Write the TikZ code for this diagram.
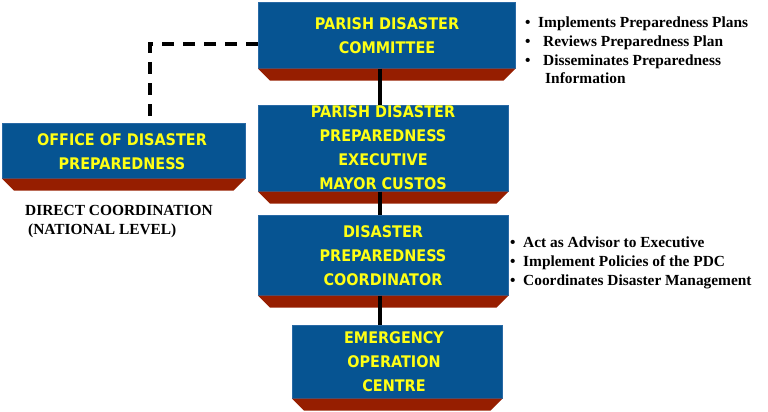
\documentclass[tikz,border=0pt]{standalone}
\usepackage{fontspec}
\setmainfont{Liberation Serif}
\newfontfamily\boxfont[FakeStretch=0.9]{DejaVu Sans}
\definecolor{boxblue}{RGB}{6,84,146}
\definecolor{boxedge}{RGB}{40,105,165}
\definecolor{basered}{RGB}{150,30,0}
\definecolor{txtyellow}{RGB}{255,255,20}
\tikzset{
  orgbox/.style={draw=boxedge, line width=0.6pt, fill=boxblue, inner sep=0pt, anchor=north west},
  boxtext/.style={text=txtyellow, font=\boxfont\bfseries\fontsize{16}{24}\selectfont, align=center, inner sep=0pt},
  basefill/.style={fill=basered},
  link/.style={line width=3.4pt},
  dlink/.style={line width=3.4pt, dash pattern=on 12pt off 9pt},
  note/.style={font=\bfseries\fontsize{15.4}{18.7}\selectfont, align=left, anchor=north west, inner sep=0pt},
}
\newcommand\redbase[1]{\fill[basefill] (#1.south west) -- (#1.south east) -- ([xshift=-12pt,yshift=-12pt]#1.south east) -- ([xshift=12pt,yshift=-12pt]#1.south west) -- cycle;}
\begin{document}
\begin{tikzpicture}[x=1pt,y=-1pt]
\useasboundingbox (0,0) rectangle (768,412);
% boxes
\node[orgbox, minimum width=257pt, minimum height=66pt] (pdc) at (258,2) {};
\node[orgbox, minimum width=250pt, minimum height=86pt] (exec) at (258,105) {};
\node[orgbox, minimum width=250pt, minimum height=80pt] (coord) at (258,215) {};
\node[orgbox, minimum width=210pt, minimum height=73pt] (eoc) at (292,325) {};
\node[orgbox, minimum width=243pt, minimum height=55pt] (odp) at (2,123) {};
\redbase{pdc}
\redbase{exec}
\redbase{coord}
\redbase{eoc}
\redbase{odp}
% connectors
\coordinate (spine) at (380,0);
\coordinate (bend) at (150,44);
\draw[link] (spine |- pdc.south) -- (spine |- exec.north);
\draw[link] (spine |- exec.south) -- (spine |- coord.north);
\draw[link] (spine |- coord.south) -- (spine |- eoc.north);
\draw[dlink] (pdc.west |- bend) -- (bend) -- (bend |- odp.north);
% box texts
\node[boxtext] (pdct) at (387,36) {PARISH DISASTER\\COMMITTEE};
\node[boxtext] (exect) at (383,148) {PARISH DISASTER\\PREPAREDNESS\\EXECUTIVE\\MAYOR CUSTOS};
\node[boxtext] (coordt) at (383,256) {DISASTER\\PREPAREDNESS\\COORDINATOR};
\node[boxtext] (eoct) at (394,362) {EMERGENCY\\OPERATION\\CENTRE};
\node[boxtext] (odpt) at (122,151.5) {OFFICE OF DISASTER\\PREPAREDNESS};
% notes
\node[note] (pdcnotes) at (525,17) {\makebox[13pt][l]{\textbullet}Implements Preparedness Plans\\
\makebox[18pt][l]{\textbullet}Reviews Preparedness Plan\\
\makebox[18pt][l]{\textbullet}Disseminates Preparedness\\
\hspace*{20pt}Information};
\node[note] (coordnotes) at (510,237) {\makebox[13pt][l]{\textbullet}Act as Advisor to Executive\\
\makebox[13pt][l]{\textbullet}Implement Policies of the PDC\\
\makebox[13pt][l]{\textbullet}Coordinates Disaster Management};
\node[note] (odpnote) at (25,205) {DIRECT COORDINATION\\\hspace*{3pt}(NATIONAL LEVEL)};
\end{tikzpicture}
\end{document}
